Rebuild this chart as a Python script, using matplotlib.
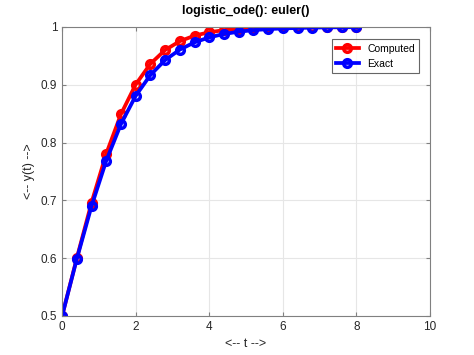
import numpy as np
import matplotlib
matplotlib.use("Agg")
import matplotlib.pyplot as plt

plt.rcParams['font.family'] = ['Liberation Sans', 'DejaVu Sans']

t = [0.0, 0.4, 0.8, 1.2, 1.6, 2.0, 2.4, 2.8, 3.2, 3.6, 4.0,
     4.4, 4.8, 5.2, 5.6, 6.0, 6.4, 6.8, 7.2, 7.6, 8.0]
y_computed = [0.5, 0.6, 0.696, 0.7806, 0.8491, 0.9004, 0.9362, 0.9601, 0.9754, 0.9850, 0.9909,
              0.9945, 0.9967, 0.9980, 0.9988, 0.9993, 0.9996, 0.9997, 0.9998, 0.9999, 0.9999]
y_exact = [0.5, 0.5987, 0.6900, 0.7685, 0.8320, 0.8808, 0.9168, 0.9427, 0.9608, 0.9734, 0.9820,
           0.9879, 0.9918, 0.9945, 0.9963, 0.9975, 0.9983, 0.9989, 0.9993, 0.9995, 0.9997]

fig = plt.figure(figsize=(4.74, 3.55), dpi=100)
ax = fig.add_axes([0.131, 0.110, 0.776, 0.814])

ax.plot(t, y_computed, color='red', lw=2.7, marker='o', ms=5.5, mfc='none', mew=2.5, label='Computed')
ax.plot(t, y_exact, color='blue', lw=2.7, marker='o', ms=5.5, mfc='none', mew=2.5, label='Exact')

ax.set_xlim(0, 10)
ax.set_ylim(0.5, 1)
ax.set_xticks([0, 2, 4, 6, 8, 10])
ax.set_yticks([0.5, 0.6, 0.7, 0.8, 0.9, 1])
ax.set_yticklabels(['0.5', '0.6', '0.7', '0.8', '0.9', '1'])
ax.grid(True, color='#e6e6e6', lw=0.8)
ax.set_axisbelow(True)
for s in ax.spines.values():
    s.set_color('#808080')
    s.set_linewidth(0.8)
ax.tick_params(direction='in', labelsize=8.5, colors='#262626', top=True, right=True, length=3)
ax.tick_params(axis='both', color='#808080')

ax.set_xlabel('<-- t -->', fontsize=9, color='#262626')
ax.set_ylabel('<-- y(t) -->', fontsize=9, color='#262626')
ax.set_title('logistic_ode(): euler()', fontsize=9, fontweight='bold', pad=9)

leg = ax.legend(loc='upper right', bbox_to_anchor=(0.985, 0.975), fontsize=7.5, fancybox=False,
                edgecolor='#404040', handlelength=2.2, borderpad=0.4, labelspacing=0.5)
leg.get_frame().set_linewidth(0.8)

fig.savefig('out.png', dpi=100)
